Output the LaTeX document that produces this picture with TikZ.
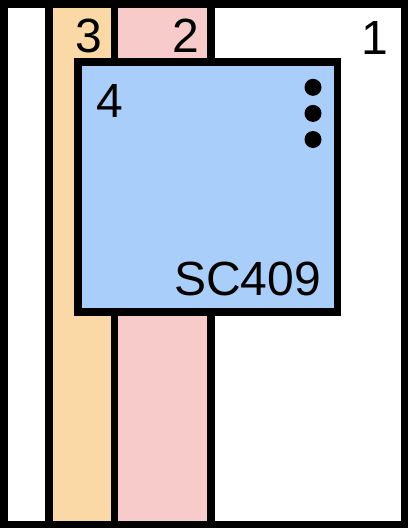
\documentclass[tikz,border=0pt]{standalone}
\usepackage{fontspec}
\setmainfont{Liberation Sans}
\usetikzlibrary{positioning}

\definecolor{zonanaranja}{RGB}{250,217,166}
\definecolor{zonarosa}{RGB}{248,203,203}
\definecolor{zonaazul}{RGB}{169,206,249}

\tikzset{
  zona/.style={draw=black, line width=7.5pt},
  etiqueta/.style={inner sep=0pt, font=\fontsize{48}{56}\selectfont},
  punto/.style={circle, fill=black, inner sep=0pt, minimum size=17pt}
}

\begin{document}
\begin{tikzpicture}[x=1pt, y=-1pt]
\useasboundingbox (0,0) rectangle (408,528);

% Zona 1
\draw[zona, fill=white] (3.75,3.75) rectangle (404.25,524.25);
\node[etiqueta, anchor=base] (uno) at (375,54) {1};

% Zona 3
\draw[zona, fill=zonanaranja] (48.8,3.75) rectangle (210.8,524.25);
\node[etiqueta, anchor=base] (tres) at (88.5,52) {3};

% Zona 2
\draw[zona, fill=zonarosa] (114.7,3.75) rectangle (210.8,524.25);
\node[etiqueta, anchor=base] (dos) at (186,52) {2};

% Zona 4
\draw[zona, fill=zonaazul] (78,61.8) rectangle (337.4,312);
\node[etiqueta, anchor=base] (cuatro) at (110,117) {4};
\node[etiqueta, anchor=base east] (sc) at (321,295) {SC409};

% Puntos
\node[punto] (p1) at (313,87.3) {};
\node[punto] (p2) at (313,113.4) {};
\node[punto] (p3) at (313,139.5) {};
\end{tikzpicture}
\end{document}
